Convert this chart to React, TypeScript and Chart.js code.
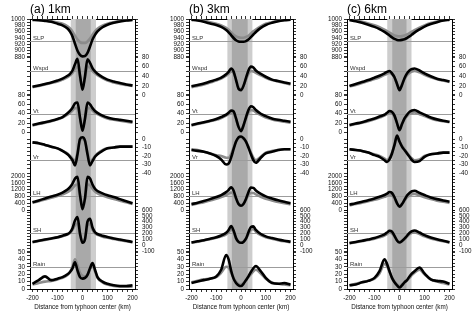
import React, { useEffect, useRef } from 'react';
import { Chart, registerables } from 'chart.js';

Chart.register(...registerables);

// ---------------- data ----------------
const DIST = [-200, -175, -150, -125, -100, -80, -60, -50, -40, -30, -20, -10, 0, 10, 20, 30, 40, 50, 60, 80, 100, 125, 150, 175, 200];

const VARS = ['SLP', 'Wspd', 'Vt', 'Vr', 'LH', 'SH', 'Rain'];
const REF_VALUES = [930, 50, 40, -25, 800, 200, 30];

const SLP_LABELS = [1000, 980, 960, 940, 920, 900, 880];
const WSPD_LABELS = [80, 60, 40, 20, 0];
const VT_LABELS = [80, 60, 40, 20, 0];
const VR_LABELS = [0, -10, -20, -30, -40];
const LH_LABELS = [2000, 1600, 1200, 800, 400, 0];
const SH_LABELS = [600, 500, 400, 300, 200, 100, 0, -100];
const RAIN_LABELS = [50, 40, 30, 20, 10, 0];
const X_TICKS = [-200, -180, -160, -140, -120, -100, -80, -60, -40, -20, 0, 20, 40, 60, 80, 100, 120, 140, 160, 180, 200];
const X_LABELS = [-200, -100, 0, 100, 200];

// (a) 1km
const A_SLP_K = [997, 996, 994, 991, 985, 980, 970, 960, 945, 922, 900, 887, 882, 883, 893, 913, 935, 950, 961, 974, 982, 988, 992, 995, 997];
const A_SLP_G = [998, 997, 995, 993, 989, 985, 977, 970, 960, 947, 935, 927, 924, 924, 929, 938, 950, 961, 969, 979, 985, 990, 994, 996, 998];
const A_WSPD_K = [18, 21, 24, 27, 31, 35, 41, 45, 52, 65, 76, 42, 12, 40, 75, 68, 57, 50, 45, 38, 33, 29, 26, 23, 21];
const A_WSPD_G = [17, 20, 23, 26, 29, 33, 38, 42, 47, 55, 60, 38, 18, 36, 60, 58, 51, 46, 42, 36, 31, 27, 24, 22, 20];
const A_VT_K = [16, 19, 22, 25, 29, 33, 41, 46, 53, 62, 64, 32, 4, 30, 64, 60, 52, 46, 42, 36, 32, 29, 27, 25, 23];
const A_VT_G = [15, 18, 21, 24, 28, 32, 38, 42, 47, 52, 52, 30, 10, 28, 52, 52, 47, 42, 39, 34, 30, 27, 25, 23, 21];
const A_VR_K = [-4, -5, -7, -9, -11, -14, -18, -21, -25, -31, -18, 0, 2, -2, -18, -31, -26, -21, -18, -14, -11, -10, -9, -9, -9];
const A_VR_G = [-4, -5, -7, -9, -11, -14, -17, -20, -23, -26, -16, -1, 0, -3, -16, -27, -24, -20, -17, -13, -11, -10, -9, -9, -9];
const A_LH_K = [450, 560, 680, 800, 900, 1020, 1200, 1350, 1550, 1850, 1950, 900, 50, 700, 1950, 1850, 1500, 1250, 1120, 980, 870, 760, 640, 520, 400];
const A_LH_G = [420, 520, 620, 720, 820, 920, 1050, 1150, 1280, 1450, 1500, 800, 300, 650, 1500, 1450, 1250, 1080, 980, 850, 750, 650, 550, 450, 360];
const A_SH_K = [55, 75, 95, 115, 135, 160, 190, 220, 290, 420, 480, 200, 40, 100, 400, 450, 300, 220, 190, 160, 140, 115, 95, 75, 55];
const A_SH_G = [50, 70, 90, 110, 130, 150, 180, 205, 260, 340, 370, 180, 60, 110, 330, 360, 260, 200, 175, 145, 125, 105, 85, 65, 50];
const A_RAIN_K = [7, 12, 17, 12, 14, 16, 20, 23, 28, 36, 25, 16, 14, 15, 19, 28, 35, 26, 16, 10, 7, 5, 4, 4, 5];
const A_RAIN_G = [6, 8, 10, 11, 13, 15, 19, 23, 30, 40, 32, 22, 18, 17, 20, 27, 32, 24, 15, 9, 6, 4, 3, 3, 3];

// (b) 3km
const B_SLP_K = [998, 995, 991, 986, 981, 975, 965, 958, 949, 940, 933, 929, 928, 928, 930, 935, 943, 951, 959, 972, 981, 988, 993, 996, 998];
const B_SLP_G = [999, 997, 994, 990, 985, 980, 972, 966, 958, 950, 945, 942, 941, 941, 943, 947, 954, 961, 967, 977, 985, 990, 994, 997, 999];
const B_WSPD_K = [19, 22, 25, 29, 33, 37, 44, 49, 56, 50, 32, 14, 11, 20, 36, 52, 60, 58, 52, 45, 39, 33, 30, 27, 25];
const B_WSPD_G = [17, 20, 23, 27, 31, 35, 41, 45, 50, 47, 33, 17, 13, 20, 33, 45, 51, 50, 47, 42, 37, 32, 29, 26, 23];
const B_VT_K = [16, 19, 22, 25, 29, 33, 38, 42, 47, 45, 30, 12, 3, 15, 32, 48, 56, 54, 48, 40, 35, 30, 27, 25, 23];
const B_VT_G = [15, 18, 21, 24, 27, 31, 36, 39, 42, 40, 28, 12, 5, 15, 30, 42, 48, 47, 43, 37, 32, 28, 25, 23, 21];
const B_VR_K = [-13, -14, -15, -17, -20, -24, -30, -29, -22, -12, -3, 2, 3, 1, -3, -10, -18, -25, -28, -22, -17, -15, -13, -12, -12];
const B_VR_G = [-12, -13, -15, -17, -19, -20, -22, -22, -18, -10, -3, 1, 2, 0, -3, -9, -16, -22, -25, -21, -16, -14, -13, -12, -12];
const B_LH_K = [350, 430, 530, 640, 760, 880, 1050, 1180, 1330, 1150, 700, 350, 250, 350, 650, 1050, 1320, 1300, 1150, 950, 800, 680, 570, 480, 400];
const B_LH_G = [300, 380, 460, 560, 660, 760, 880, 960, 1020, 950, 650, 380, 300, 380, 600, 880, 1000, 1000, 920, 780, 660, 560, 470, 400, 340];
const B_SH_K = [45, 65, 85, 110, 135, 165, 210, 260, 325, 250, 120, 55, 40, 55, 110, 220, 310, 320, 260, 190, 150, 120, 95, 75, 60];
const B_SH_G = [40, 60, 80, 100, 125, 150, 185, 220, 270, 220, 115, 60, 45, 60, 105, 190, 260, 275, 230, 170, 135, 110, 85, 65, 50];
const B_RAIN_K = [8, 10, 12, 14, 17, 26, 46, 40, 25, 14, 8, 5, 4, 7, 12, 17, 23, 28, 31, 24, 15, 8, 7, 8, 6];
const B_RAIN_G = [9, 11, 13, 14, 16, 22, 30, 29, 22, 15, 10, 7, 6, 8, 12, 16, 20, 24, 26, 21, 14, 9, 7, 6, 5];

// (c) 6km
const C_SLP_K = [997, 993, 988, 982, 975, 968, 959, 954, 948, 942, 937, 934, 933, 934, 936, 940, 945, 951, 957, 967, 976, 984, 990, 995, 998];
const C_SLP_G = [998, 995, 991, 986, 980, 974, 966, 962, 957, 952, 948, 946, 945, 946, 948, 951, 955, 960, 965, 973, 980, 987, 992, 996, 998];
const C_WSPD_K = [20, 24, 28, 32, 37, 41, 46, 49, 51, 46, 38, 24, 11, 22, 36, 46, 52, 55, 56, 52, 46, 40, 35, 32, 29];
const C_WSPD_G = [19, 22, 26, 30, 34, 38, 43, 45, 47, 44, 37, 25, 14, 23, 34, 42, 47, 50, 51, 48, 43, 38, 34, 31, 28];
const C_VT_K = [16, 19, 22, 26, 30, 34, 38, 42, 46, 44, 36, 20, 5, 18, 30, 38, 44, 47, 48, 43, 38, 32, 28, 25, 23];
const C_VT_G = [15, 18, 21, 24, 28, 32, 36, 39, 42, 41, 34, 20, 8, 18, 28, 35, 40, 42, 43, 39, 35, 30, 26, 24, 22];
const C_VR_K = [-12, -13, -14, -16, -19, -21, -25, -27, -24, -17, -7, 4, -3, -9, -13, -17, -21, -25, -27, -26, -21, -18, -17, -16, -16];
const C_VR_G = [-12, -13, -14, -16, -18, -20, -23, -25, -22, -16, -7, 2, -3, -8, -12, -16, -20, -23, -25, -24, -20, -18, -17, -16, -16];
const C_LH_K = [320, 400, 490, 580, 680, 780, 880, 960, 1060, 1000, 750, 400, 200, 350, 600, 850, 1000, 1100, 1130, 1000, 880, 740, 640, 560, 490];
const C_LH_G = [280, 350, 430, 510, 600, 680, 770, 840, 900, 860, 660, 380, 250, 340, 540, 740, 860, 930, 950, 850, 750, 640, 550, 480, 420];
const C_SH_K = [35, 55, 75, 95, 120, 150, 185, 215, 245, 230, 160, 80, 45, 70, 110, 160, 210, 240, 250, 215, 170, 130, 100, 75, 50];
const C_SH_G = [30, 50, 68, 88, 110, 135, 165, 190, 215, 200, 145, 80, 55, 70, 100, 145, 185, 210, 215, 190, 150, 115, 90, 65, 45];
const C_RAIN_K = [5, 6, 9, 11, 15, 24, 40, 34, 24, 15, 9, 5, 2, 5, 9, 12, 17, 21, 24, 29, 21, 13, 11, 10, 7];
const C_RAIN_G = [5, 7, 9, 11, 14, 21, 34, 31, 23, 15, 10, 6, 4, 6, 9, 12, 15, 19, 22, 26, 20, 13, 10, 8, 6];

const PANEL_TITLES = ['(a) 1km', '(b) 3km', '(c) 6km'];
const OUTER_SHADE = [[-47, 54], [-55, 46], [-49, 48]];
const INNER_SHADE = [[-27, 33], [-37, 27], [-29, 28]];

const BLACK_SERIES = [
  [A_SLP_K, A_WSPD_K, A_VT_K, A_VR_K, A_LH_K, A_SH_K, A_RAIN_K],
  [B_SLP_K, B_WSPD_K, B_VT_K, B_VR_K, B_LH_K, B_SH_K, B_RAIN_K],
  [C_SLP_K, C_WSPD_K, C_VT_K, C_VR_K, C_LH_K, C_SH_K, C_RAIN_K],
];
const GRAY_SERIES = [
  [A_SLP_G, A_WSPD_G, A_VT_G, A_VR_G, A_LH_G, A_SH_G, A_RAIN_G],
  [B_SLP_G, B_WSPD_G, B_VT_G, B_VR_G, B_LH_G, B_SH_G, B_RAIN_G],
  [C_SLP_G, C_WSPD_G, C_VT_G, C_VR_G, C_LH_G, C_SH_G, C_RAIN_G],
];
const TICK_LABELS = [SLP_LABELS, WSPD_LABELS, VT_LABELS, VR_LABELS, LH_LABELS, SH_LABELS, RAIN_LABELS];

// ---------------- layout ----------------
const W = 474;
const H = 322;
const PLOT_TOP = 19;
const PLOT_BOTTOM = 289;
const PANEL_X = [[30, 135], [189, 293], [347, 452]];
const FONT = "'Liberation Sans', Arial, Helvetica, sans-serif";
// value v1 at y1 px and v2 at y2 px below plot top; tick step; side of labels
const AXIS_LAYOUT = [
  { v1: 1000, y1: 0, v2: 880, y2: 38, step: 10, side: 'left' },
  { v1: 80, y1: 38, v2: 0, y2: 76.5, step: 10, side: 'right' },
  { v1: 80, y1: 76, v2: 0, y2: 113.5, step: 10, side: 'left' },
  { v1: 0, y1: 120, v2: -40, y2: 154, step: 5, side: 'right' },
  { v1: 2000, y1: 157, v2: 0, y2: 191, step: 200, side: 'left' },
  { v1: 600, y1: 191, v2: -100, y2: 232, step: 50, side: 'right' },
  { v1: 50, y1: 233, v2: 0, y2: 270, step: 5, side: 'left' },
];

function axisRange(a: any) {
  const hc = PLOT_BOTTOM - PLOT_TOP;
  const k = (a.v1 - a.v2) / (a.y2 - a.y1);
  return { max: a.v1 + a.y1 * k, min: a.v2 - (hc - a.y2) * k };
}

function tickValues(a: any) {
  const out: number[] = [];
  for (let v = a.v2; v <= a.v1 + 1e-9; v += a.step) out.push(Math.round(v * 1000) / 1000);
  return out;
}

// zero-width axes are used for layout; widen their boxes afterwards so labels are not clipped
const widenAxes = {
  id: 'widenAxes',
  afterLayout(chart: any) {
    Object.values(chart.scales).forEach((s: any) => {
      if (s.axis !== 'y') return;
      if (s.options.position === 'left') {
        s.left = s.right - 40;
      } else {
        s.right = s.left + 40;
      }
      s.width = 40;
    });
  },
};

function makeChart(canvas: HTMLCanvasElement, pi: number) {
  const [left, right] = PANEL_X[pi];
  const scales: any = {
    x: {
      type: 'linear', axis: 'x', position: 'bottom', min: -210, max: 210, bounds: 'data',
      afterBuildTicks: (s: any) => { s.ticks = X_TICKS.map((v) => ({ value: v })); },
      afterFit: (s: any) => { s.height = 22; },
      ticks: {
        autoSkip: false, maxRotation: 0, padding: 2, color: '#111',
        font: { size: 6.3, family: FONT },
        callback: (v: any) => (X_LABELS.includes(Number(v)) ? String(v) : ''),
      },
      grid: { drawOnChartArea: false, tickLength: 3, color: '#000', lineWidth: 0.8 },
      border: { color: '#000', width: 1 },
      title: { display: true, text: 'Distance from typhoon center (km)', color: '#111', font: { size: 6.3, family: FONT }, padding: 0 },
    },
    xTop: {
      type: 'linear', axis: 'x', position: 'top', min: -210, max: 210, bounds: 'data',
      afterBuildTicks: (s: any) => { s.ticks = X_TICKS.map((v) => ({ value: v })); },
      afterFit: (s: any) => { s.height = 0; },
      ticks: { autoSkip: false, maxRotation: 0, callback: () => '' },
      grid: { drawOnChartArea: false, tickLength: 3, color: '#000', lineWidth: 0.8 },
      border: { color: '#000', width: 1 },
    },
  };
  AXIS_LAYOUT.forEach((a, i) => {
    const { min, max } = axisRange(a);
    const tv = tickValues(a);
    const labels = TICK_LABELS[i];
    const common = {
      type: 'linear', axis: 'y', min, max, bounds: 'data', grace: 0,
      afterBuildTicks: (s: any) => { s.ticks = tv.map((v) => ({ value: v })); },
      afterFit: (s: any) => { s.width = 0; },
      grid: { drawOnChartArea: false, tickLength: 3, color: '#000', lineWidth: 0.8 },
      border: { color: '#000', width: 1 },
    };
    scales['y' + i] = {
      ...common,
      position: a.side,
      ticks: {
        autoSkip: false, padding: a.side === 'left' ? 2 : 4, color: '#111',
        font: { size: 6.3, family: FONT },
        callback: (v: any) => (labels.includes(Number(v)) ? String(v) : ''),
      },
    };
    scales['m' + i] = {
      ...common,
      position: a.side === 'left' ? 'right' : 'left',
      ticks: { autoSkip: false, callback: () => '' },
    };
  });

  const datasets: any[] = [];
  VARS.forEach((_, i) => {
    datasets.push({
      data: DIST.map((x, j) => ({ x, y: BLACK_SERIES[pi][i][j] })),
      xAxisID: 'x', yAxisID: 'y' + i, borderColor: '#000', borderWidth: 2.6,
      pointRadius: 0, cubicInterpolationMode: 'monotone', fill: false, order: 1,
    });
    datasets.push({
      data: DIST.map((x, j) => ({ x, y: GRAY_SERIES[pi][i][j] })),
      xAxisID: 'x', yAxisID: 'y' + i, borderColor: '#8c8c8c', borderWidth: 2.6,
      pointRadius: 0, cubicInterpolationMode: 'monotone', fill: false, order: 2,
    });
  });

  const bandPlugin = {
    id: 'bands' + pi,
    beforeDatasetsDraw(chart: any) {
      const { ctx, chartArea: ca, scales: sc } = chart;
      ctx.save();
      ctx.beginPath();
      ctx.rect(ca.left, ca.top, ca.right - ca.left, ca.bottom - ca.top);
      ctx.clip();
      const xs = sc.x;
      const o0 = xs.getPixelForValue(OUTER_SHADE[pi][0]);
      const o1 = xs.getPixelForValue(OUTER_SHADE[pi][1]);
      const i0 = xs.getPixelForValue(INNER_SHADE[pi][0]);
      const i1 = xs.getPixelForValue(INNER_SHADE[pi][1]);
      ctx.fillStyle = '#cdcdcd';
      ctx.fillRect(o0, ca.top, o1 - o0, ca.bottom - ca.top);
      ctx.fillStyle = '#a9a9a9';
      ctx.fillRect(i0, ca.top, i1 - i0, ca.bottom - ca.top);
      VARS.forEach((name, i) => {
        const y = Math.round(sc['y' + i].getPixelForValue(REF_VALUES[i])) + 0.5;
        ctx.strokeStyle = '#9c9c9c';
        ctx.lineWidth = 1;
        ctx.beginPath();
        ctx.moveTo(ca.left, y);
        ctx.lineTo(ca.right, y);
        ctx.stroke();
        ctx.fillStyle = '#333';
        ctx.font = '6px ' + FONT;
        ctx.textBaseline = 'alphabetic';
        ctx.textAlign = 'left';
        ctx.fillText(name, ca.left + 3, y - 1.5);
      });
      ctx.restore();
    },
  };

  return new Chart(canvas, {
    type: 'line',
    data: { datasets },
    plugins: [bandPlugin, widenAxes],
    options: {
      responsive: false,
      animation: false,
      devicePixelRatio: 1,
      events: [],
      layout: { padding: { left, right: W - right, top: 0, bottom: H - PLOT_BOTTOM - 22 } },
      plugins: {
        legend: { display: false },
        tooltip: { enabled: false },
        title: {
          display: true, text: PANEL_TITLES[pi], align: 'start', color: '#000',
          font: { size: 12, family: FONT, weight: 'normal' },
          padding: { top: 2, bottom: 2.6 },
        },
      },
      scales,
    } as any,
  });
}

export default function App() {
  const refs = useRef<(HTMLCanvasElement | null)[]>([]);
  useEffect(() => {
    const charts = PANEL_TITLES.map((_, i) => makeChart(refs.current[i] as HTMLCanvasElement, i));
    return () => charts.forEach((c) => c.destroy());
  }, []);
  return (
    <div style={{ position: 'fixed', left: 0, top: 0, width: W, height: H, background: '#fff' }}>
      {PANEL_TITLES.map((t, i) => (
        <canvas
          key={t}
          ref={(el) => { refs.current[i] = el; }}
          width={W}
          height={H}
          style={{ position: 'absolute', left: 0, top: 0, width: W, height: H }}
        />
      ))}
    </div>
  );
}
